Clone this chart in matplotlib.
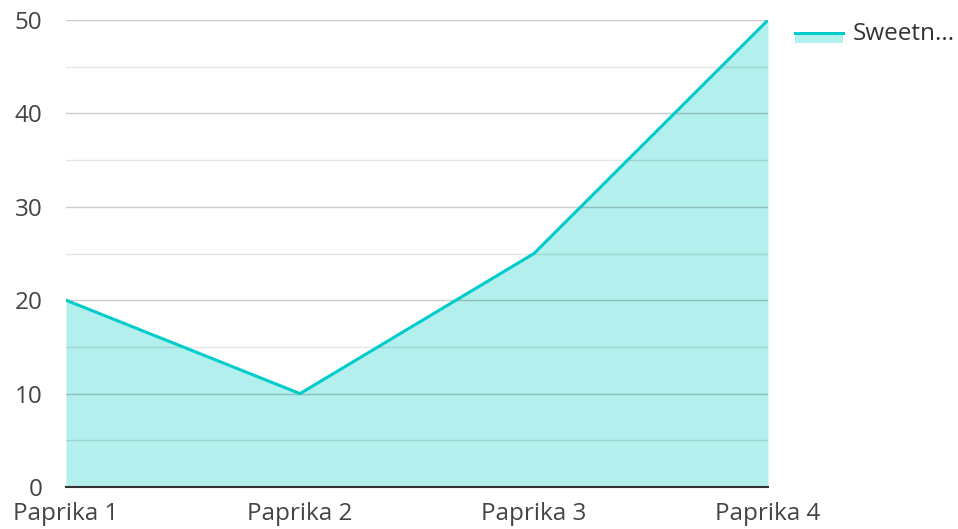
import matplotlib
matplotlib.use("Agg")
import matplotlib.pyplot as plt
from matplotlib.patches import Rectangle
from matplotlib.lines import Line2D

categories = ["Paprika 1", "Paprika 2", "Paprika 3", "Paprika 4"]
sweetness = [20, 10, 25, 50]
series_name = "Sweetn..."

LINE = "#00cccc"
FILL = "#b2efed"

plt.rcParams.update({
    "font.family": ["Open Sans", "DejaVu Sans"],
    "font.size": 17.5,
})

fig = plt.figure(figsize=(9.58, 5.29), dpi=100)
ax = fig.add_axes([66 / 958, 1 - 487 / 529, (768 - 66) / 958, (487 - 20) / 529])

x = list(range(len(categories)))
ax.fill_between(x, sweetness, 0, color=FILL, lw=0, zorder=1)
ax.plot(x, sweetness, color=LINE, lw=2.2, zorder=3, solid_joinstyle="miter")

ax.set_xlim(0, len(categories) - 1)
ax.set_ylim(0, 50)
ax.set_yticks(range(0, 51, 10))
ax.set_yticks(range(5, 50, 10), minor=True)
ax.set_xticks(x)
ax.set_xticklabels(categories)
ax.grid(axis="y", which="major", color="black", alpha=0.2, lw=1, zorder=2)
ax.grid(axis="y", which="minor", color="black", alpha=0.1, lw=1, zorder=2)
for s in ["top", "right", "left"]:
    ax.spines[s].set_visible(False)
ax.spines["bottom"].set_color("#333333")
ax.spines["bottom"].set_linewidth(1.5)
ax.spines["bottom"].set_zorder(4)
ax.tick_params(axis="both", which="both", length=0, labelcolor="#444444")
ax.tick_params(axis="y", pad=17)
ax.tick_params(axis="x", pad=11)

# legend drawn by hand, top right
fig.patches.append(Rectangle((795 / 958, 1 - 43 / 529), 48 / 958, 10 / 529,
                             transform=fig.transFigure, color=FILL, lw=0))
fig.lines.append(Line2D([795 / 958, 843 / 958], [1 - 33 / 529, 1 - 33 / 529],
                        transform=fig.transFigure, color=LINE, lw=2.2))
fig.text(853 / 958, 1 - 34 / 529, series_name, va="center", ha="left",
         color="#333333", fontsize=17.5)

fig.savefig("out.png", dpi=100)
